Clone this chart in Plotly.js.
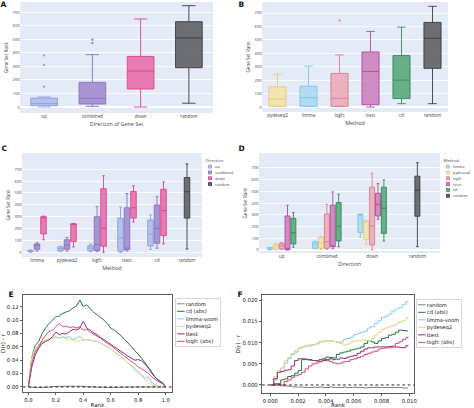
<!DOCTYPE html>
<html><head><meta charset="utf-8">
<script src="https://cdn.plot.ly/plotly-3.0.1.min.js"></script>
<style>
html,body{margin:0;padding:0;overflow:hidden;width:474px;height:408px;background:#fff}
#wrap{width:474px;height:408px;overflow:hidden;position:relative}
#chart{position:absolute;left:0;top:0;transform:scale(0.25);transform-origin:0 0}
</style></head><body><div id="wrap"><div id="chart"></div></div>
<script>
const K = 4, W = 474, H = 408;

// ---- Panel A: rank by direction ----
const aCats = ['up', 'combined', 'down', 'random'];
const aLow  = [0, 5, 0, 28];
const aQ1   = [10, 22, 133, 290];
const aMed  = [25, 64, 265, 509];
const aQ3   = [66, 182, 373, 629];
const aHigh = [74, 386, 649, 747];
const aOutX = ['up', 'up', 'up', 'combined', 'combined'];
const aOutY = [150, 310, 380, 472, 496];

// ---- Panel B: rank by method ----
const bCats = ['pydeseq2', 'limma', 'logfc', 'ttest', 'cd', 'random'];
const bLow  = [5, 5, 5, 0, 25, 25];
const bQ1   = [5, 5, 5, 18, 63, 288];
const bMed  = [60, 70, 65, 265, 200, 512];
const bQ3   = [150, 155, 250, 410, 383, 630];
const bHigh = [245, 305, 388, 563, 595, 750];
const bOutX = ['logfc'];
const bOutY = [645];

// ---- Panel C: method x direction ----
const cCats = ['limma', 'pydeseq2', 'logfc', 'ttest', 'cd'];
const cUpLow = [0, 5, 5, 0, 25],   cUpQ1 = [5, 12, 12, 8, 53],     cUpMed = [10, 30, 35, 120, 152],  cUpQ3 = [15, 45, 55, 288, 272],   cUpHigh = [20, 50, 70, 380, 315];
const cCoLow = [10, 10, 5, 10, 34], cCoQ1 = [25, 25, 15, 22, 76],  cCoMed = [60, 62, 65, 35, 200],  cCoQ3 = [70, 105, 300, 375, 399], cCoHigh = [80, 125, 385, 495, 469];
const cDnLow = [105, 45, 0, 255, 70], cDnQ1 = [155, 90, 50, 288, 140], cDnMed = [290, 235, 202, 375, 351], cDnQ3 = [300, 240, 535, 512, 531], cDnHigh = [305, 242, 645, 560, 593];
const rndStats = [28, 288, 510, 630, 745]; // low, q1, median, q3, high

// ---- Panel D: direction x method ----
const dCats = ['up', 'combined', 'down'];
const dLimma = {lo: [0, 10, 108], q1: [3, 14, 148], med: [10, 50, 295], q3: [20, 71, 305], hi: [22, 75, 306]};
const dPydeseq2 = {lo: [0, 5, 48], q1: [6, 14, 91], med: [30, 60, 240], q3: [48, 108, 248], hi: [57, 114, 250]};
const dLogfc = {lo: [5, 5, 0], q1: [9, 14, 43], med: [35, 71, 205], q3: [57, 307, 536], hi: [65, 390, 655]};
const dTtest = {lo: [0, 10, 262], q1: [2, 28, 290], med: [14, 34, 390], q3: [290, 382, 484], hi: [382, 496, 567]};
const dCd = {lo: [23, 28, 77], q1: [51, 77, 142], med: [148, 202, 356], q3: [270, 405, 536], hi: [319, 476, 598]};

// ---- Panel E: D(r)-r over full rank ----
const eX = [0,0.025,0.05,0.075,0.1,0.125,0.15,0.175,0.2,0.225,0.25,0.275,0.3,0.325,0.35,0.375,0.4,0.425,0.45,0.475,0.5,0.525,0.55,0.575,0.6,0.625,0.65,0.675,0.7,0.725,0.75,0.775,0.8,0.825,0.85,0.875,0.9,0.925,0.95,0.975,1.0];
const eRandom = [0,-0.0005,-0.001,-0.0008,-0.001,-0.0006,0,0.0005,0.0008,0.001,0.0012,0.001,0.0012,0.0013,0.001,0.0012,0.0008,0.0006,0.0004,0,-0.0002,-0.0005,-0.0006,-0.0008,-0.0005,-0.0006,-0.0004,-0.0005,-0.0003,-0.0004,-0.0002,0,0.0002,0,-0.0002,0,0.0002,0.0001,0,0,0];
const eCd = [0,0.045,0.062,0.068,0.08,0.088,0.095,0.1,0.105,0.106,0.11,0.112,0.114,0.118,0.121,0.13,0.12,0.123,0.117,0.112,0.108,0.104,0.1,0.095,0.088,0.085,0.081,0.077,0.071,0.066,0.06,0.054,0.049,0.043,0.036,0.029,0.022,0.014,0.009,0.007,0];
const eLimma = [0,0.04,0.055,0.062,0.066,0.07,0.072,0.074,0.075,0.073,0.075,0.074,0.075,0.071,0.073,0.076,0.07,0.071,0.07,0.069,0.068,0.066,0.063,0.06,0.057,0.053,0.049,0.045,0.041,0.036,0.032,0.027,0.023,0.018,0.013,0.015,0.006,0.003,0.001,0.001,0];
const ePydeseq2 = [0,0.045,0.058,0.064,0.068,0.07,0.072,0.073,0.074,0.073,0.074,0.072,0.071,0.07,0.068,0.07,0.07,0.071,0.07,0.069,0.068,0.066,0.063,0.06,0.057,0.053,0.049,0.045,0.041,0.036,0.031,0.026,0.021,0.016,0.011,0.007,0.003,0.001,0,0,0];
const eTtest = [0,0.03,0.048,0.058,0.065,0.068,0.07,0.075,0.082,0.078,0.08,0.079,0.083,0.086,0.085,0.088,0.098,0.088,0.085,0.081,0.078,0.074,0.071,0.067,0.064,0.06,0.057,0.053,0.05,0.046,0.043,0.04,0.041,0.039,0.034,0.028,0.02,0.014,0.01,0.006,0];
const eLogfc = [0,0.035,0.052,0.06,0.07,0.077,0.083,0.085,0.09,0.095,0.09,0.091,0.089,0.09,0.088,0.09,0.085,0.086,0.082,0.079,0.076,0.073,0.069,0.065,0.062,0.058,0.054,0.05,0.046,0.042,0.038,0.035,0.03,0.027,0.024,0.02,0.015,0.011,0.008,0.005,0];

// ---- Panel F: D(r)-r over top 1% rank ----
const fX = [0,0.00025,0.0005,0.00075,0.001,0.00125,0.0015,0.00175,0.002,0.00225,0.0025,0.00275,0.003,0.00325,0.0035,0.00375,0.004,0.00425,0.0045,0.00475,0.005,0.00525,0.0055,0.00575,0.006,0.00625,0.0065,0.00675,0.007,0.00725,0.0075,0.00775,0.008,0.00825,0.0085,0.00875,0.009,0.00925,0.0095,0.00975,0.0099];
const fRandom = [0,0.0003,0.0002,0,-0.0002,-0.0003,-0.0004,-0.0005,-0.0005,-0.0005,-0.0006,-0.0006,-0.0005,-0.0006,-0.0005,-0.0006,-0.0006,-0.0005,-0.0006,-0.0006,-0.0006,-0.0005,-0.0006,-0.0006,-0.0005,-0.0006,-0.0006,-0.0007,-0.0006,-0.0006,-0.0005,-0.0006,-0.0006,-0.0006,-0.0006,-0.0006,-0.0006,-0.0006,-0.0007,-0.0007,-0.0007];
const fCd = [0,0,0.0003,0.0012,0.0014,0.002,0.0022,0.0028,0.0034,0.006,0.006,0.0059,0.0058,0.0057,0.006,0.0062,0.0066,0.0065,0.0064,0.0072,0.0076,0.0078,0.008,0.0083,0.0085,0.0087,0.009,0.0098,0.0105,0.0102,0.0098,0.0104,0.011,0.0112,0.0118,0.012,0.0125,0.013,0.0129,0.0128,0.0128];
const fLimma = [0,0.0012,0.003,0.004,0.0052,0.0062,0.0072,0.0078,0.0087,0.009,0.0092,0.0093,0.0095,0.0097,0.0103,0.0102,0.0105,0.0104,0.0103,0.0101,0.0102,0.0108,0.011,0.0113,0.0119,0.0122,0.0125,0.0127,0.0135,0.0138,0.0145,0.0152,0.016,0.0163,0.0168,0.0175,0.018,0.0183,0.019,0.0197,0.0199];
const fPydeseq2 = [0,0.002,0.0035,0.004,0.0058,0.0065,0.0075,0.0082,0.0088,0.009,0.0093,0.0095,0.0094,0.0098,0.0102,0.0104,0.0105,0.0105,0.0103,0.0101,0.0098,0.0095,0.0097,0.0102,0.0105,0.0104,0.0106,0.0106,0.0105,0.011,0.0118,0.0125,0.0132,0.0135,0.0138,0.014,0.0145,0.015,0.0152,0.0158,0.0161];
const fTtest = [0,0.0015,0.003,0.0032,0.0035,0.0036,0.0045,0.0058,0.0062,0.0062,0.0061,0.006,0.0058,0.0057,0.0056,0.0058,0.006,0.0062,0.006,0.0061,0.0064,0.0063,0.0066,0.0068,0.007,0.0075,0.008,0.0085,0.0088,0.0088,0.009,0.009,0.009,0.009,0.0091,0.009,0.009,0.0089,0.0088,0.0093,0.0095];
const fLogfc = [0,0.0003,0,-0.0002,0.0008,0.0012,0.0018,0.0022,0.0025,0.003,0.0038,0.0045,0.005,0.0052,0.0055,0.006,0.0058,0.0055,0.0052,0.005,0.0052,0.0055,0.0056,0.006,0.0062,0.0065,0.0068,0.0072,0.0075,0.0078,0.008,0.0085,0.0087,0.0088,0.0088,0.0092,0.0098,0.0102,0.0108,0.0112,0.0115];

const lineNames = ['random', 'cd (abs)', 'limma-voom', 'pydeseq2', 'ttest', 'logfc (abs)'];

// ---- styles ----
const dirStyle = {
  up:       {line: '#8c9fdb', fill: 'rgba(160,178,232,0.75)'},
  combined: {line: '#8a70bf', fill: 'rgba(150,124,200,0.78)'},
  down:     {line: '#d8448a', fill: 'rgba(232,98,164,0.82)'},
  random:   {line: '#3a3a3e', fill: 'rgba(92,92,98,0.88)'}
};
const methStyle = {
  limma:    {line: '#7ec5ea', fill: 'rgba(162,214,242,0.78)'},
  pydeseq2: {line: '#e2cd72', fill: 'rgba(242,226,160,0.8)'},
  logfc:    {line: '#d97a8e', fill: 'rgba(236,160,176,0.78)'},
  ttest:    {line: '#b04c9c', fill: 'rgba(200,118,184,0.82)'},
  cd:       {line: '#33895a', fill: 'rgba(80,165,115,0.85)'},
  random:   {line: '#3a3a3e', fill: 'rgba(92,92,98,0.88)'}
};
const lineColors = ['#7f7f7f', '#1f7a3a', '#86cde8', '#e3d585', '#962a7a', '#d6497d'];

const traces = [];
function box(ax, x, lo, q1, med, q3, hi, st, opts) {
  return Object.assign({
    type: 'box', xaxis: 'x' + ax, yaxis: 'y' + ax,
    x: x, lowerfence: lo, q1: q1, median: med, q3: q3, upperfence: hi,
    fillcolor: st.fill, line: {color: st.line, width: 0.9 * K},
    whiskerwidth: 0.5, boxpoints: false, hoverinfo: 'skip'
  }, opts);
}

// A
aCats.forEach((c, i) => {
  traces.push(box('', [c], [aLow[i]], [aQ1[i]], [aMed[i]], [aQ3[i]], [aHigh[i]], dirStyle[c],
    {name: c, offsetgroup: 'A', showlegend: false}));
});
traces.push({type: 'scatter', mode: 'markers', xaxis: 'x', yaxis: 'y', x: aOutX, y: aOutY, showlegend: false,
  marker: {size: 2.2 * K, color: aOutX.map(c => dirStyle[c].line)}, hoverinfo: 'skip'});
// B
bCats.forEach((c, i) => {
  traces.push(box('2', [c], [bLow[i]], [bQ1[i]], [bMed[i]], [bQ3[i]], [bHigh[i]], methStyle[c],
    {name: c, offsetgroup: 'B', showlegend: false}));
});
traces.push({type: 'scatter', mode: 'markers', xaxis: 'x2', yaxis: 'y2', x: bOutX, y: bOutY, showlegend: false,
  marker: {size: 2.2 * K, color: methStyle.logfc.line}, hoverinfo: 'skip'});
// C
[['up', cUpLow, cUpQ1, cUpMed, cUpQ3, cUpHigh, 'cu'],
 ['combined', cCoLow, cCoQ1, cCoMed, cCoQ3, cCoHigh, 'cc'],
 ['down', cDnLow, cDnQ1, cDnMed, cDnQ3, cDnHigh, 'cd']].forEach(r => {
  traces.push(box('3', cCats, r[1], r[2], r[3], r[4], r[5], dirStyle[r[0]],
    {name: r[0], offsetgroup: r[6], legend: 'legend'}));
});
traces.push(box('3', ['random'], [rndStats[0]], [rndStats[1]], [rndStats[2]], [rndStats[3]], [rndStats[4]], dirStyle.random,
  {name: 'random', offsetgroup: 'cc', legend: 'legend'}));
// D
[['limma', dLimma], ['pydeseq2', dPydeseq2], ['logfc', dLogfc], ['ttest', dTtest], ['cd', dCd]].forEach(r => {
  const s = r[1];
  traces.push(box('4', dCats, s.lo, s.q1, s.med, s.q3, s.hi, methStyle[r[0]],
    {name: r[0], offsetgroup: 'd_' + r[0], legend: 'legend2'}));
});
traces.push(box('4', ['random'], [rndStats[0]], [rndStats[1]], [rndStats[2]], [rndStats[3]], [rndStats[4]], methStyle.random,
  {name: 'random', offsetgroup: 'd_logfc', legend: 'legend2'}));
// E
[eRandom, eCd, eLimma, ePydeseq2, eTtest, eLogfc].forEach((ys, i) => {
  traces.push({type: 'scatter', mode: 'lines', xaxis: 'x5', yaxis: 'y5', x: eX, y: ys, name: lineNames[i],
    line: {color: lineColors[i], width: 1.0 * K}, legend: 'legend3', hoverinfo: 'skip'});
});
// F
[fRandom, fCd, fLimma, fPydeseq2, fTtest, fLogfc].forEach((ys, i) => {
  traces.push({type: 'scatter', mode: 'lines', xaxis: 'x6', yaxis: 'y6', x: fX, y: ys, name: lineNames[i],
    line: {color: lineColors[i], width: 1.0 * K, shape: 'hv'}, legend: 'legend4', hoverinfo: 'skip'});
});

// ---- layout helpers ----
const xd = (a, b) => [a / W, b / W];
const yd = (top, bottom) => [1 - bottom / H, 1 - top / H];
const sans = 'Open Sans, Noto Sans, sans-serif';
const mpl = 'DejaVu Sans, sans-serif';

function catX(domain, anchor, title, cats) {
  return {domain, anchor, type: 'category', categoryorder: 'array', categoryarray: cats,
    showgrid: false, zeroline: false, ticks: '', ticklen: 0, automargin: false,
    tickfont: {family: sans, size: 4.6 * K, color: '#444'},
    title: {text: title, font: {family: sans, size: 5.4 * K, color: '#444'}, standoff: 3 * K}};
}
function rankY(domain, anchor, range) {
  return {domain, anchor, range, tickvals: [0, 100, 200, 300, 400, 500, 600, 700], automargin: false,
    showgrid: true, gridcolor: '#ffffff', gridwidth: 0.8 * K, zeroline: true, zerolinecolor: '#ffffff', zerolinewidth: 1.2 * K,
    ticks: '', tickfont: {family: sans, size: 4.2 * K, color: '#444'},
    title: {text: 'Gene Set Rank', font: {family: sans, size: 4.6 * K, color: '#444'}, standoff: 3 * K}};
}
function mplAxis(domain, anchor, range, dtick, fmt, title) {
  return {domain, anchor, range, dtick, tick0: 0, tickformat: fmt, automargin: false,
    showline: true, mirror: true, linecolor: '#333', linewidth: 0.8 * K,
    ticks: 'outside', ticklen: 2.5 * K, tickwidth: 0.8 * K, tickcolor: '#333',
    showgrid: false, zeroline: false,
    tickfont: {family: mpl, size: 5.3 * K, color: '#222'},
    title: {text: title, font: {family: mpl, size: 5.6 * K, color: '#222'}, standoff: 1 * K}};
}
function bg(ax) {
  return {type: 'rect', xref: 'x' + ax + ' domain', yref: 'y' + ax + ' domain', x0: 0, x1: 1, y0: 0, y1: 1,
    fillcolor: '#e5ebf6', line: {width: 0}, layer: 'below'};
}
function letter(t, x, y) {
  return {text: '<b>' + t + '</b>', xref: 'paper', yref: 'paper', x: x / W, y: 1 - y / H,
    xanchor: 'left', yanchor: 'middle', showarrow: false, font: {family: mpl, size: 7.5 * K, color: '#111'}};
}

const layout = {
  width: W * K, height: H * K,
  margin: {l: 0, r: 0, t: 0, b: 0},
  paper_bgcolor: '#ffffff', plot_bgcolor: 'rgba(0,0,0,0)',
  boxmode: 'group', boxgap: 0.35, boxgroupgap: 0.15,
  font: {family: sans, color: '#444'},
  xaxis:  catX(xd(20, 213), 'y', 'Direction of Gene Set', aCats),
  yaxis:  rankY(yd(2, 113), 'x', [-44, 774]),
  xaxis2: catX(xd(262, 448), 'y2', 'Method', bCats),
  yaxis2: rankY(yd(2, 112), 'x2', [-37, 782]),
  xaxis3: catX(xd(22, 202), 'y3', 'Method', cCats.concat(['random'])),
  yaxis3: rankY(yd(153, 257), 'x3', [-40, 837]),
  xaxis4: catX(xd(259, 440), 'y4', 'Direction', dCats.concat(['random'])),
  yaxis4: rankY(yd(153, 253), 'x4', [-26, 828]),
  xaxis5: mplAxis(xd(23, 172), 'y5', [-0.039, 1.046], 0.2, '.1f', 'Rank'),
  yaxis5: mplAxis(yd(295, 392), 'x5', [-0.0075, 0.1375], 0.02, '.2f', 'D(r) - r'),
  xaxis6: mplAxis(xd(262, 414), 'y6', [-0.0006, 0.01034], 0.002, '.3f', 'Rank'),
  yaxis6: mplAxis(yd(295, 393), 'x6', [-0.0019, 0.0213], 0.005, '.3f', 'D(r) - r'),
  legend: {x: 205 / W, y: 1 - 157 / H, xanchor: 'left', yanchor: 'top', bgcolor: 'rgba(0,0,0,0)', borderwidth: 0,
    title: {text: 'Direction', font: {family: sans, size: 4.2 * K, color: '#444'}},
    font: {family: sans, size: 3.9 * K, color: '#444'}, tracegroupgap: 0, itemwidth: 30},
  legend2: {x: 443 / W, y: 1 - 157 / H, xanchor: 'left', yanchor: 'top', bgcolor: 'rgba(0,0,0,0)', borderwidth: 0,
    title: {text: 'Method', font: {family: sans, size: 4.2 * K, color: '#444'}},
    font: {family: sans, size: 3.9 * K, color: '#444'}, tracegroupgap: 0, itemwidth: 30},
  legend3: {x: 175 / W, y: 1 - 298 / H, xanchor: 'left', yanchor: 'top', bgcolor: '#ffffff', bordercolor: '#cccccc', borderwidth: 0.8 * K,
    font: {family: mpl, size: 5.2 * K, color: '#222'}, tracegroupgap: 0, itemwidth: 30},
  legend4: {x: 416 / W, y: 1 - 299 / H, xanchor: 'left', yanchor: 'top', bgcolor: '#ffffff', bordercolor: '#cccccc', borderwidth: 0.8 * K,
    font: {family: mpl, size: 5.2 * K, color: '#222'}, tracegroupgap: 0, itemwidth: 30},
  shapes: [bg(''), bg('2'), bg('3'), bg('4'),
    {type: 'line', xref: 'x5 domain', yref: 'y5', x0: 0, x1: 1, y0: 0, y1: 0, line: {color: '#111', width: 0.9 * K, dash: 'dash'}},
    {type: 'line', xref: 'x6 domain', yref: 'y6', x0: 0, x1: 1, y0: 0, y1: 0, line: {color: '#111', width: 0.9 * K, dash: 'dash'}}],
  annotations: [letter('A', 0, 4), letter('B', 238, 4), letter('C', 1, 148), letter('D', 238, 148), letter('E', 8, 294), letter('F', 237, 294)]
};

Plotly.newPlot('chart', traces, layout, {displayModeBar: false, staticPlot: true});
</script></body></html>
